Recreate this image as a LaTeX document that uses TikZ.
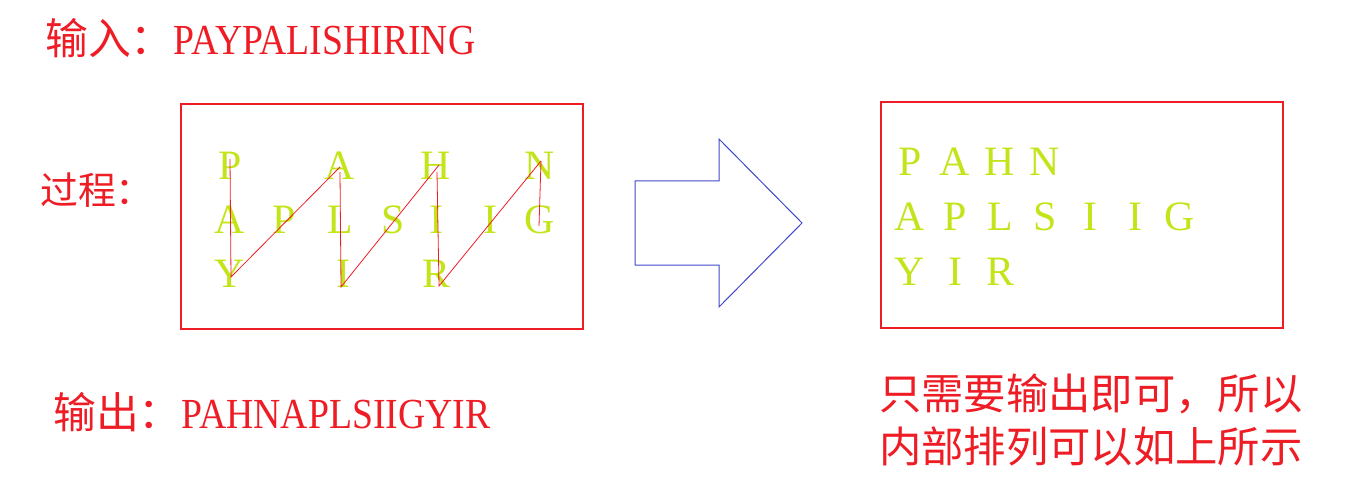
\documentclass[tikz,border=0pt]{standalone}
\usepackage{fontspec}
\setmainfont{Liberation Serif}
\newfontfamily\cjk{Noto Sans CJK SC}
\definecolor{rd}{HTML}{EE1C24}
\definecolor{yg}{HTML}{C4E41A}
\definecolor{bl}{HTML}{3F48CC}
\begin{document}
\begin{tikzpicture}[x=1bp,y=-1bp,
  lbl/.style={text=rd,anchor=west,inner sep=0,font=\fontsize{43}{47}\selectfont},
  ltr/.style={text=yg,inner sep=0,font=\fontsize{42}{46}\selectfont},
  bx/.style={draw=rd,line width=2.2bp},
  zz/.style={draw=rd,line width=0.8bp}]
\useasboundingbox (0,0) rectangle (1364,482);
\node[lbl] (t1) at (45,38) {{\cjk 输入：}\scalebox{0.88}[1]{PAYPALISHIRING}};
\node[lbl,font=\fontsize{38}{42}\selectfont] (t2) at (40,190) {\cjk 过程：};
\node[lbl] (t3) at (53,412) {{\cjk 输出：}\scalebox{0.88}[1]{PAHNAPLSIIGYIR}};
\node[lbl,font=\fontsize{42.5}{53}\selectfont,align=left] (t4) at (879,420) {\cjk 只需要输出即可，所以\\\cjk 内部排列可以如上所示};
\draw[bx] (181,104) rectangle (583,329);
\draw[bx] (881,102) rectangle (1283,328);
% left letters
\foreach \x/\y/\c [count=\i] in {230/166/P,340/166/A,436/166/H,540/166/N,
  230/220/A,284/220/P,340/220/L,393/220/S,436/220/I,490/220/I,540/220/G,
  230/274/Y,343/274/I,436/274/R}
  \node[ltr] (l\i) at (\x,\y) {\c};
% right letters
\foreach \x/\y/\c [count=\i] in {910/162/P,955/162/A,1000/162/H,1045/162/N,
  910/217/A,955/217/P,1000/217/L,1045/217/S,1090/217/I,1135/217/I,1180/217/G,
  910/272/Y,955/272/I,1000/272/R}
  \node[ltr] (r\i) at (\x,\y) {\c};
% zigzag
\coordinate (z1) at (230,159); \coordinate (z2) at (231,277);
\coordinate (z3) at (340,167); \coordinate (z4) at (340,172);
\coordinate (z5) at (341,287); \coordinate (z6) at (439,165);
\coordinate (z7) at (437,172); \coordinate (z8) at (439,286);
\coordinate (z9) at (541,161); \coordinate (z10) at (539,226);
\draw[zz] (z1) -- (z2) -- (z3);
\draw[zz] (z4) -- (z5) -- (z6);
\draw[zz] (z7) -- (z8) -- (z9);
\draw[zz] (z9) -- (z10);
% block arrow
\coordinate (a1) at (635,181); \coordinate (a2) at (719,181);
\coordinate (a3) at (719,139); \coordinate (a4) at (802,223);
\coordinate (a5) at (719,307); \coordinate (a6) at (719,265);
\coordinate (a7) at (635,265);
\draw[bl,line width=1bp] (a1) -- (a2) -- (a3) -- (a4) -- (a5) -- (a6) -- (a7) -- cycle;
\end{tikzpicture}
\end{document}
